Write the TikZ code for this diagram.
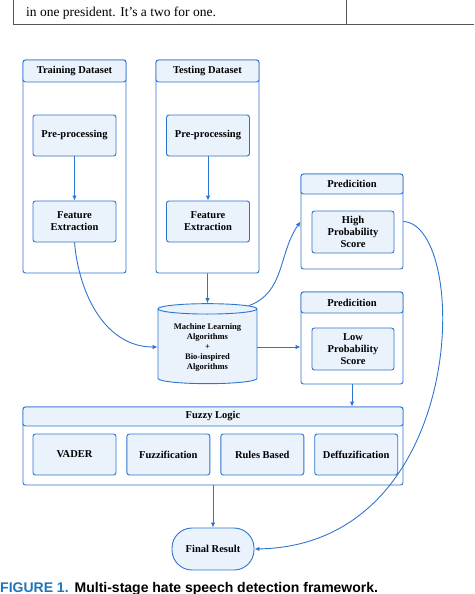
\documentclass[tikz,border=0pt]{standalone}
\usepackage{fontspec}
\setmainfont{Liberation Serif}
\setsansfont{Liberation Sans}
\usetikzlibrary{arrows.meta,positioning,calc,shapes.geometric}
\definecolor{flowblue}{HTML}{2F74D0}
\definecolor{boxfill}{HTML}{EAF2FC}
\definecolor{capblue}{HTML}{1C75BC}
\definecolor{rulegray}{HTML}{555555}

\begin{document}
\begin{tikzpicture}[x=1pt,y=-1pt,>={Latex[length=5pt,width=4.5pt]},
  panel/.style={draw=flowblue,line width=0.9pt,rounded corners=2.5pt,fill=white,inner sep=0pt},
  head/.style={draw=flowblue,line width=0.9pt,rounded corners=2.5pt,fill=boxfill,inner sep=0pt,anchor=north,
    font=\fontsize{10.5}{11}\selectfont\bfseries},
  box/.style={draw=flowblue,line width=0.9pt,rounded corners=2.5pt,fill=boxfill,align=center,
    minimum width=83pt,minimum height=41pt,inner sep=2pt,font=\fontsize{10.5}{12}\selectfont\bfseries},
  arrow/.style={->,draw=flowblue,line width=0.9pt}]
\useasboundingbox (0,0) rectangle (474,594);

% table row above the figure
\draw[rulegray,line width=0.8pt] (13,0) -- (13,24) -- (474,24);
\draw[rulegray,line width=0.8pt] (346,0) -- (346,24);
\node[anchor=base west,inner sep=0pt,font=\fontsize{13.5}{15}\selectfont] (quote) at (26,17) {in one president. It’s a two for one.};

% dataset panels
\node[panel,minimum width=103pt,minimum height=213pt] (train) at (74.5,166.5) {};
\node[head,minimum width=103pt,minimum height=22pt] (trainh) at (train.north) {Training Dataset};
\node[panel,minimum width=103pt,minimum height=213pt] (test) at (207.5,166.5) {};
\node[head,minimum width=103pt,minimum height=22pt] (testh) at (test.north) {Testing Dataset};

\node[box] (pre1) at (74.5,135.5) {Pre-processing};
\node[box] (fe1) at (74.5,221.5) {Feature\\Extraction};
\node[box] (pre2) at (208,135.5) {Pre-processing};
\node[box] (fe2) at (208,221.5) {Feature\\Extraction};

% prediction panels
\node[panel,minimum width=102pt,minimum height=95pt] (high) at (352,221.5) {};
\node[head,minimum width=102pt,minimum height=20pt] (highh) at (high.north) {Predicition};
\node[box,minimum width=82pt,minimum height=42pt] (hps) at (353,232) {High\\Probability\\Score};
\node[panel,minimum width=102pt,minimum height=92pt] (low) at (352,338) {};
\node[head,minimum width=102pt,minimum height=21pt] (lowh) at (low.north) {Predicition};
\node[box,minimum width=82pt,minimum height=42pt] (lps) at (353,349) {Low\\Probability\\Score};

% learning store
\node[cylinder,shape border rotate=90,aspect=0.15,draw=flowblue,line width=0.9pt,fill=boxfill,
  minimum width=99pt,minimum height=80pt,align=center,inner sep=1pt,
  font=\fontsize{8.5}{10}\selectfont\bfseries] (ml) at (207.5,347)
  {Machine Learning\\Algorithms\\+\\Bio-inspired\\Algorithms};

% fuzzy logic panel
\node[panel,minimum width=380pt,minimum height=78pt] (fuzzy) at (213,446) {};
\node[head,minimum width=380pt,minimum height=19pt] (fuzzyh) at (fuzzy.north) {Fuzzy Logic};
\node[box] (vader) at (74.5,454.5) {VADER};
\node[box,right=10pt of vader] (fuzz) {Fuzzification};
\node[box,right=10pt of fuzz] (rules) {Rules Based};
\node[box,right=10pt of rules] (defuzz) {Deffuzification};

\node[box,rounded corners=20pt,minimum width=82pt,minimum height=42pt] (final) at (213,549) {Final Result};

% connectors
\draw[arrow] (pre1) -- (fe1);
\draw[arrow] (pre2) -- (fe2);
\draw[arrow] (test.south) -- (ml.north);
\draw[arrow] (fe1.south) to[out=-85,in=180] (ml.west);
\draw[arrow] (ml.east) -- (ml.east -| low.west);
\draw[arrow] (ml.north east) to[out=20,in=235] (high.west);
\draw[arrow] (low.south) -- (low.south |- fuzzy.north);
\draw[arrow] (fuzzy.south) -- (final.north);
\draw[arrow] (high.east) .. controls (470,225) and (470,545) .. (final.east);

% caption
\node[anchor=base west,inner sep=0pt,font=\sffamily\bfseries\fontsize{14}{16}\selectfont] (cap) at (0,592)
  {\textcolor{capblue}{FIGURE 1.}\hspace{6pt}Multi-stage hate speech detection framework.};
\end{tikzpicture}
\end{document}
